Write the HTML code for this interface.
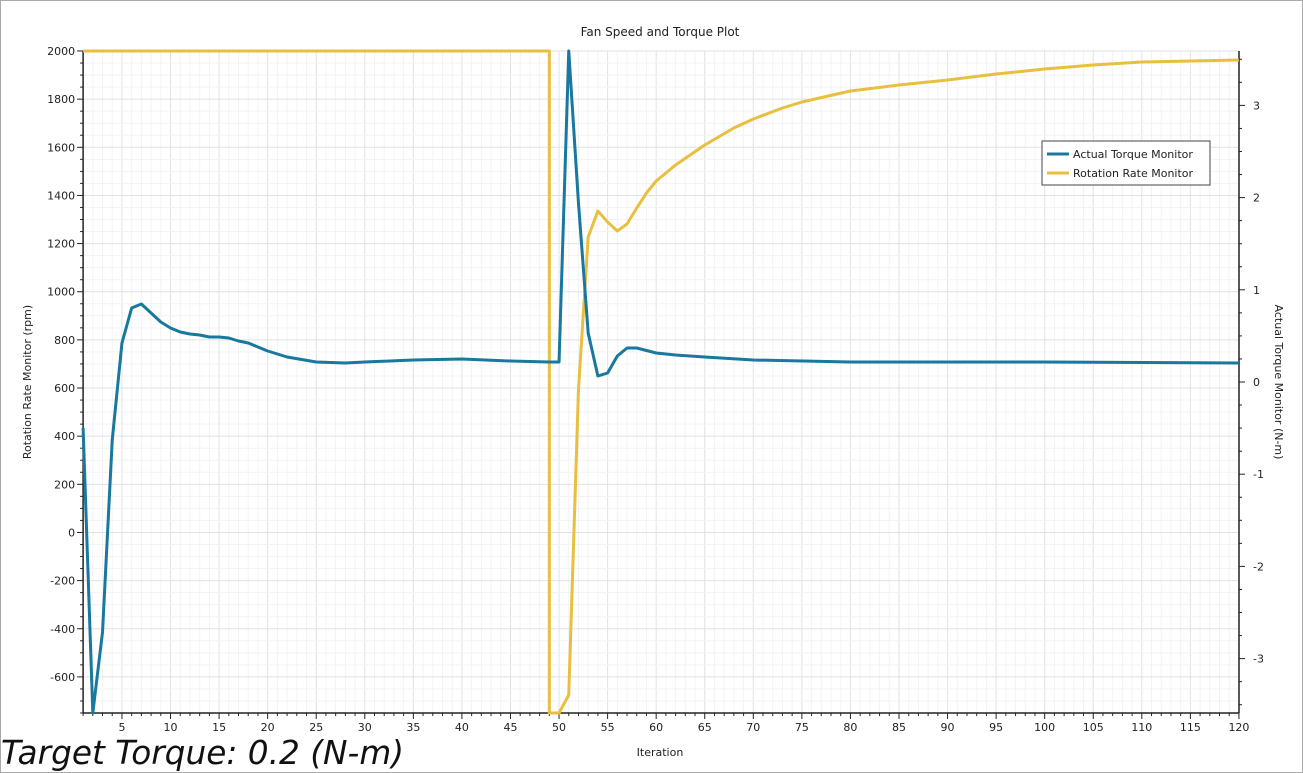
<!DOCTYPE html>
<html><head><meta charset="utf-8"><style>
html,body{margin:0;padding:0;background:#fff;}
body{width:1303px;height:773px;overflow:hidden;position:relative;font-family:"DejaVu Sans","Liberation Sans",sans-serif;}
.frame{position:absolute;left:0;top:0;width:1301px;height:771px;border:1px solid #aaa;}
</style></head><body>
<div class="frame"></div>
<svg width="1303" height="773" style="position:absolute;left:0;top:0" font-family="DejaVu Sans, Liberation Sans, sans-serif">
<g id="grid"></g>
<g id="axes"></g>
<polyline id="yl" fill="none" stroke="#e8bf3f" stroke-width="3" stroke-linejoin="round"/>
<polyline id="bl" fill="none" stroke="#18789e" stroke-width="3" stroke-linejoin="round"/>
<text x="660" y="36" font-size="12" text-anchor="middle" fill="#222">Fan Speed and Torque Plot</text>
<text x="660" y="756" font-size="11" text-anchor="middle" fill="#222">Iteration</text>
<text transform="translate(31,382) rotate(-90)" font-size="11" text-anchor="middle" fill="#222">Rotation Rate Monitor (rpm)</text>
<text transform="translate(1275,382) rotate(90)" font-size="11" text-anchor="middle" fill="#222">Actual Torque Monitor (N-m)</text>
<rect x="1042" y="141" width="168" height="44" fill="#fff" stroke="#444" stroke-width="1"/>
<line x1="1047" y1="154" x2="1069" y2="154" stroke="#18789e" stroke-width="3"/>
<text x="1073" y="158" font-size="11" fill="#222">Actual Torque Monitor</text>
<line x1="1047" y1="173" x2="1069" y2="173" stroke="#e8bf3f" stroke-width="3"/>
<text x="1073" y="177" font-size="11" fill="#222">Rotation Rate Monitor</text>
<text x="1" y="764" font-size="33" font-style="italic" fill="#111" textLength="403" lengthAdjust="spacingAndGlyphs">Target Torque: 0.2 (N-m)</text>
</svg>
<script>
const NS="http://www.w3.org/2000/svg";
const L=83.1,R=1239,T=51,B=713;
const X=i=>L+(i-1)*9.713;
const Y=v=>T+(2000-v)*0.24073;
const YR=v=>382-v*92.2;
const g=document.getElementById('grid'),a=document.getElementById('axes');
function ln(p,x1,y1,x2,y2,c,w){const l=document.createElementNS(NS,'line');l.setAttribute('x1',x1);l.setAttribute('y1',y1);l.setAttribute('x2',x2);l.setAttribute('y2',y2);l.setAttribute('stroke',c);l.setAttribute('stroke-width',w||1);p.appendChild(l);}
function tx(p,x,y,s,anc){const t=document.createElementNS(NS,'text');t.setAttribute('x',x);t.setAttribute('y',y);t.setAttribute('font-size',11);t.setAttribute('fill','#222');t.setAttribute('text-anchor',anc);t.textContent=s;p.appendChild(t);}
for(let i=1;i<=120;i++){const x=X(i);ln(g,x,T,x,B,i%5==0?'#e2e2e2':'#f3f3f3',1);ln(a,x,B,x,B+(i%5==0?6:3),'#222');if(i%5==0)tx(a,x,B+18,i,'middle');}
for(let v=-750;v<=2000;v+=50){const y=Y(v);ln(g,L,y,R,y,v%200==0?'#e2e2e2':'#f3f3f3',1);ln(a,L-(v%200==0?6:3),y,L,y,'#222');if(v%200==0)tx(a,L-8,y+4,v,'end');}
for(let v=-3.5;v<=3.5;v+=0.25){const y=YR(v);if(y<T||y>B)continue;const maj=Math.abs(v-Math.round(v))<1e-6;ln(a,R,y,R+(maj?6:3),y,'#222');if(maj)tx(a,R+14,y+4,Math.round(v),'start');}
ln(a,L,T,L,B,'#222',1.5);ln(a,L,B,R,B,'#222',1.5);ln(a,R,T,R,B,'#222',1.5);
const b=[[1,428],[2,713],[3,632],[4,440],[5,343],[6,308],[7,304],[8,313],[9,322],[10,328],[11,332],[12,334],[13,335],[14,337],[15,337],[16,338],[17,341],[18,343],[19,347],[20,351],[22,357],[25,362],[28,363],[30,362],[35,360],[40,359],[45,361],[49,362],[50,362],[51,51],[52,203],[53,333],[54,376],[55,373],[56,356],[57,348],[58,348],[60,353],[62,355],[65,357],[70,360],[80,362],[100,362],[120,363]];
const yv=[[1,51],[49,51],[49,713],[50,713],[51,695],[52,390],[53,237],[54,211],[55,222],[56,231],[57,224],[58,208],[59,193],[60,181],[62,165],[65,145],[68,128],[70,119],[73,108],[75,102],[80,91],[85,85],[90,80],[95,74],[100,69],[105,65],[110,62],[120,60]];
document.getElementById('bl').setAttribute('points',b.map(p=>X(p[0])+','+p[1]).join(' '));
document.getElementById('yl').setAttribute('points',yv.map(p=>X(p[0])+','+p[1]).join(' '));
</script>
</body></html>
